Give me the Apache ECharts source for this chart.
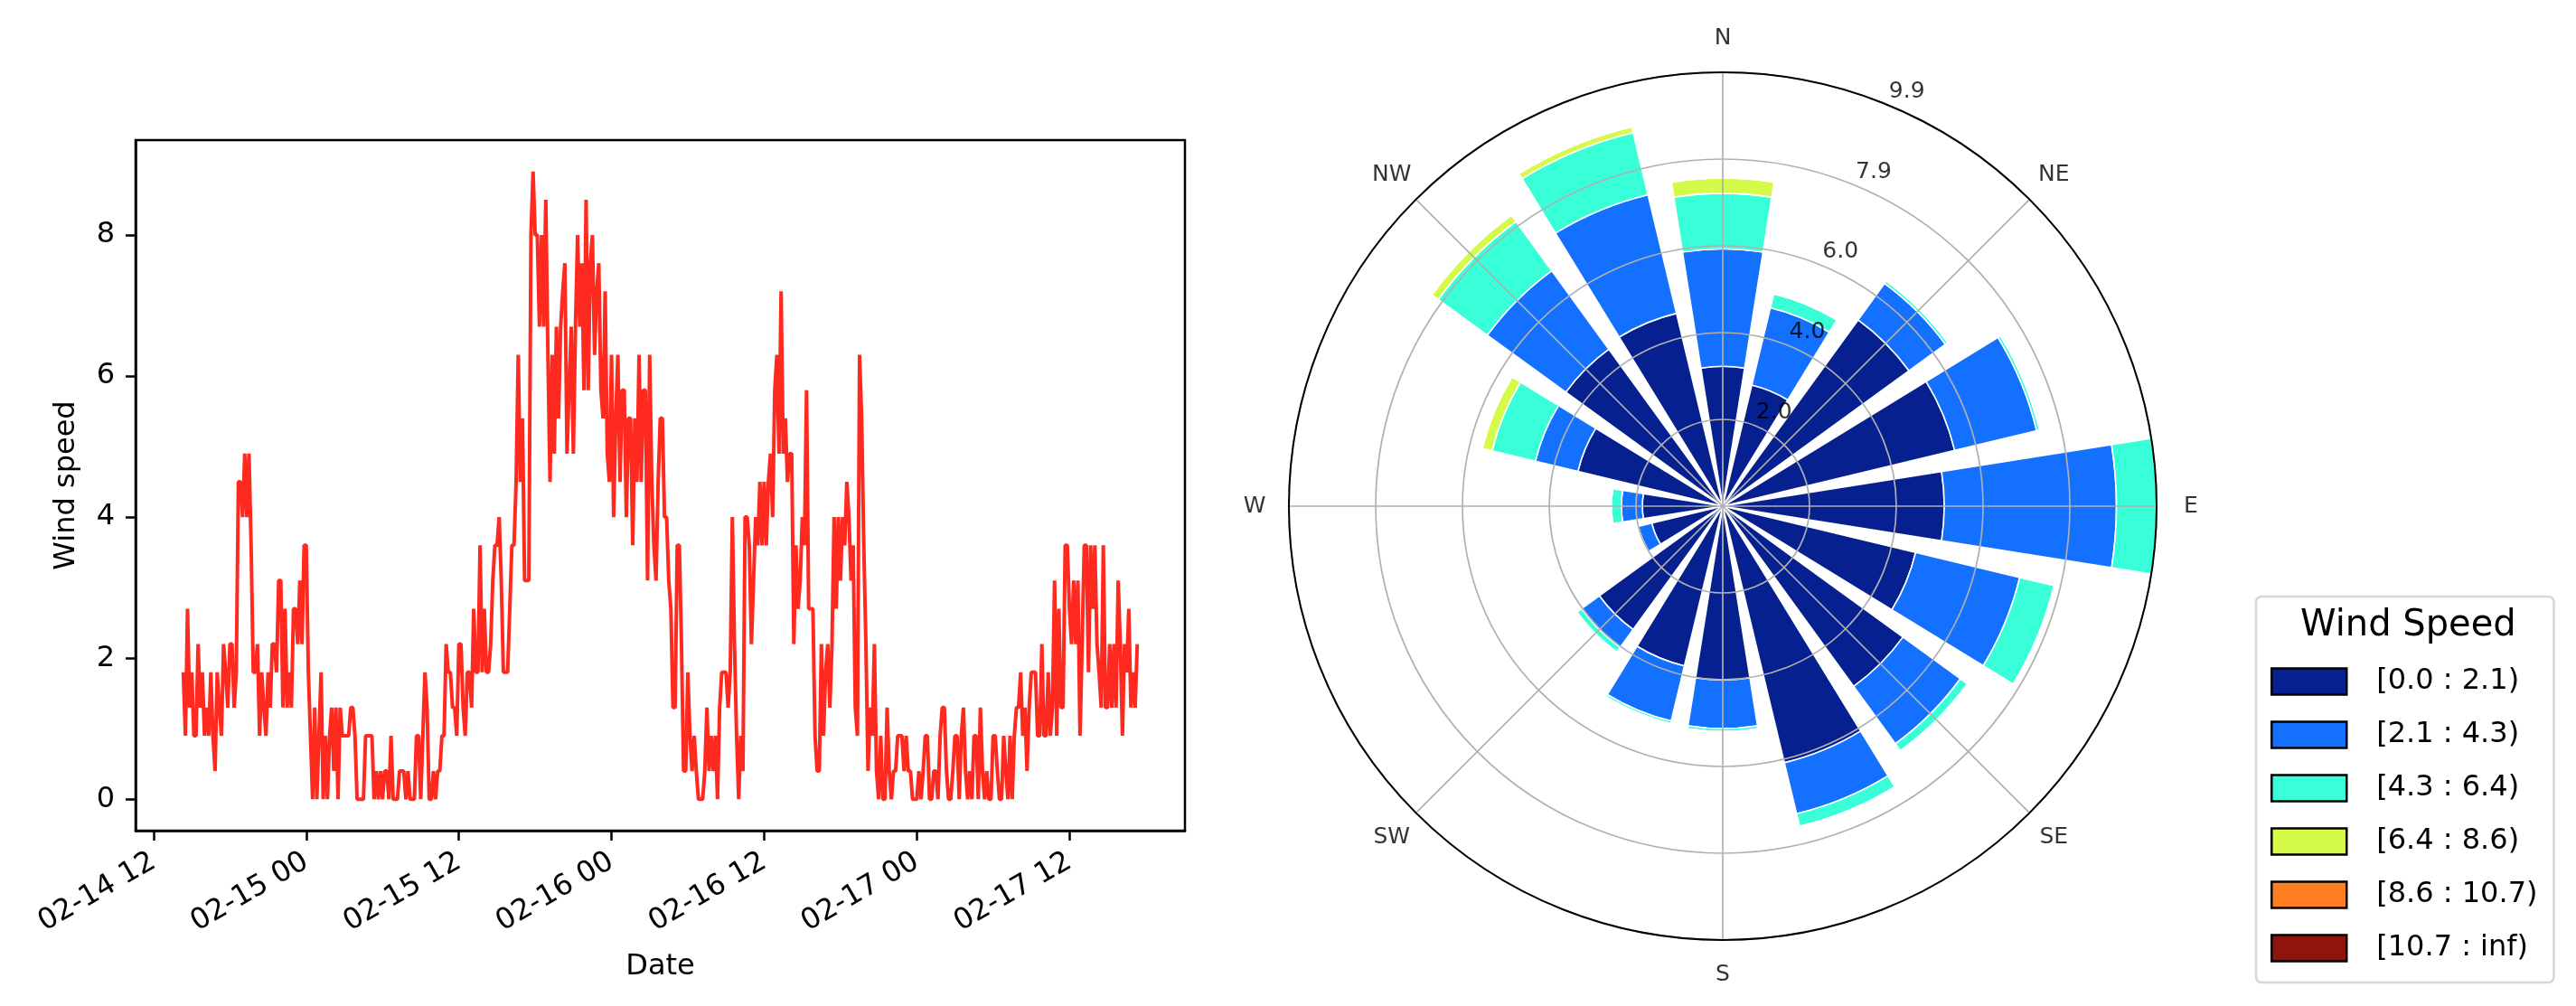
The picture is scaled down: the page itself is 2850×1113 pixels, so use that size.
<!DOCTYPE html>
<html>
<head>
<meta charset="utf-8">
<script src="https://cdn.jsdelivr.net/npm/echarts@6/dist/echarts.min.js"></script>
<style>
  html, body { margin: 0; padding: 0; background: #fff; }
  #chart { width: 2850px; height: 1113px; }
</style>
</head>
<body>
<div id="chart"></div>
<script>
// ---------- Time series (10-minute samples starting 02-14 14:20) ----------
const startHour = 14 + 20 / 60;      // hours after 02-14 00:00
const stepMinutes = 10;
const speeds = [
  1.8, 0.9, 2.7, 1.3, 1.8, 0.9, 0.9, 2.2, 1.3, 1.8,
  0.9, 1.3, 0.9, 1.8, 0.9, 0.4, 1.8, 1.3, 0.9, 2.2,
  1.8, 1.3, 2.2, 2.2, 1.3, 1.8, 4.5, 4.5, 4.0, 4.9,
  4.0, 4.9, 3.6, 1.8, 1.8, 2.2, 0.9, 1.8, 1.3, 0.9,
  1.8, 1.3, 2.2, 2.2, 1.8, 3.1, 3.1, 1.3, 2.7, 1.3,
  1.8, 1.3, 2.7, 2.7, 2.2, 3.1, 2.2, 3.6, 3.6, 1.8,
  0.9, 0, 1.3, 0, 0.9, 1.8, 0, 0.9, 0, 0.9,
  1.3, 0.4, 1.3, 0, 1.3, 0.9, 0.9, 0.9, 0.9, 1.3,
  1.3, 0.9, 0, 0, 0, 0, 0.9, 0.9, 0.9, 0.9,
  0, 0.4, 0, 0.4, 0, 0.4, 0.4, 0, 0.9, 0,
  0, 0, 0.4, 0.4, 0.4, 0, 0.4, 0, 0, 0,
  0.9, 0.9,
  0, 0.9, 1.8, 1.3, 0, 0, 0.4, 0, 0.4, 0.4,
  0.9, 0.9, 2.2, 1.8, 1.8, 1.3, 1.3, 0.9, 2.2, 2.2,
  1.3, 0.9, 1.8, 1.8, 1.3, 2.7, 1.8, 1.8, 3.6, 1.8,
  2.7, 1.8, 1.8, 2.2, 3.1, 3.6, 3.6, 4.0, 3.1, 1.8,
  1.8, 1.8, 2.7, 3.6, 3.6, 4.5, 6.3, 4.5, 5.4, 3.1,
  3.1, 3.1, 8.0, 8.9, 8.0, 8.0, 6.7, 8.0, 6.7, 8.5,
  6.3, 4.5, 6.3, 4.9, 6.7, 5.4, 6.7, 7.2, 7.6, 4.9,
  5.8, 6.7, 4.9, 6.7, 8.0, 6.7, 7.6, 5.8, 8.5, 5.8,
  7.6, 8.0, 6.3, 7.2, 7.6, 5.8, 5.4, 7.2, 4.9, 4.5,
  6.3, 4.0, 5.4, 6.3, 4.5, 5.8, 5.8, 4.0, 5.4, 5.4,
  3.6, 5.4, 4.5, 6.3, 4.5, 5.8, 5.8, 3.1, 6.3, 4.5,
  3.6, 3.1, 4.5, 5.4,
  5.4, 4.0, 4.0, 3.1, 2.7, 1.3, 1.3, 3.6, 3.6, 2.2,
  0.4, 0.4, 1.8, 0.9, 0.4, 0.9, 0.4, 0, 0, 0,
  0.4, 1.3, 0.4, 0.9, 0.4, 0.9, 0, 1.3, 1.8, 1.8,
  1.8, 1.3, 1.8, 4.0, 2.2, 0.9, 0, 0.9, 0.4, 4.0,
  4.0, 3.6, 2.2, 3.1, 4.0, 3.6, 4.5, 3.6, 4.5, 3.6,
  4.5, 4.9, 4.0, 5.8, 6.3, 4.9, 7.2, 4.9, 5.4, 4.5,
  4.9, 4.9, 2.2, 3.6, 2.7, 3.1, 4.0, 3.6, 5.8, 2.7,
  2.7, 2.7, 0.9, 0.4, 0.4, 2.2, 0.9, 1.8, 2.2, 1.3,
  2.2, 4.0, 2.7, 4.0, 3.1, 4.0, 3.6, 4.5, 4.0, 3.1,
  3.6, 1.3, 0.9, 6.3, 5.4, 3.6, 2.2, 0.4, 1.3, 0.9,
  2.2, 0.4, 0, 0.9, 0, 0, 1.3, 0.4, 0, 0.4,
  0.4, 0.9, 0.9,
  0.9, 0.4, 0.9, 0.4, 0.4, 0, 0, 0, 0.4, 0,
  0.4, 0.9, 0.9, 0, 0, 0.4, 0.4, 0, 0.9, 1.3,
  1.3, 0.4, 0, 0, 0.4, 0.9, 0.9, 0, 0.9, 1.3,
  0.4, 0, 0.4, 0, 0.9, 0.9, 0, 1.3, 0.4, 0,
  0.4, 0, 0, 0.9, 0.9, 0.4, 0, 0, 0.9, 0.4,
  0, 0.9, 0, 0.9, 1.3, 1.3, 1.8, 0.9, 1.3, 0.4,
  1.3, 1.8, 1.8, 1.8, 0.9, 0.9, 2.2, 0.9, 0.9, 1.8,
  0.9, 1.3, 3.1, 0.9, 2.7, 1.3, 1.3, 3.6, 3.6, 2.7,
  2.2, 3.1, 2.2, 3.1, 0.9, 2.2, 3.6, 3.6, 1.8, 3.6,
  2.7, 3.6, 2.2, 1.8, 1.3, 3.6, 1.3, 1.3, 2.2, 1.3,
  2.2, 1.3, 3.1, 2.2, 0.9, 2.2, 1.8, 2.7, 1.3, 1.8,
  1.3, 2.2
];
const tickHours = [12, 24, 36, 48, 60, 72, 84];
const tickLabels = ['02-14 12', '02-15 00', '02-15 12', '02-16 00', '02-16 12', '02-17 00', '02-17 12'];
const yTicks = [0, 2, 4, 6, 8];

// ---------- Wind rose (frequency %, per direction, per speed bin) ----------
const directions = ['N','NNE','NE','ENE','E','ESE','SE','SSE','S','SSW','SW','WSW','W','WNW','NW','NNW'];
const compassLabels = ['N','NE','E','SE','S','SW','W','NW'];
const compassAngles = [0, 45, 90, 135, 180, 225, 270, 315];
const binLabels = ['[0.0 : 2.1)', '[2.1 : 4.3)', '[4.3 : 6.4)', '[6.4 : 8.6)', '[8.6 : 10.7)', '[10.7 : inf)'];
const bin0 = [3.20, 2.85, 5.27, 5.46, 5.07, 4.54, 5.10, 6.04, 3.98, 3.76, 3.49, 1.67, 1.84, 3.41, 4.44, 4.54];
const bin1 = [2.69, 1.82, 1.03, 1.93, 3.94, 2.45, 1.62, 1.20, 1.11, 1.30, 0.51, 0.32, 0.48, 1.00, 2.22, 2.79];
const bin2 = [1.27, 0.33, 0.07, 0.07, 0.92, 0.81, 0.20, 0.30, 0.07, 0.06, 0.13, 0.00, 0.23, 1.02, 1.39, 1.46];
const bin3 = [0.35, 0.00, 0.00, 0.00, 0.00, 0.00, 0.00, 0.00, 0.00, 0.00, 0.00, 0.00, 0.00, 0.23, 0.18, 0.14];
const bin4 = [0, 0, 0, 0, 0, 0, 0, 0, 0, 0, 0, 0, 0, 0, 0, 0];
const bin5 = [0, 0, 0, 0, 0, 0, 0, 0, 0, 0, 0, 0, 0, 0, 0, 0];
const binColors = ['#07208f', '#1470ff', '#38ffd8', '#d6fa4a', '#ff7e22', '#8e140c'];
const rMax = 9.93;
const ringLabels = ['2.0', '4.0', '6.0', '7.9', '9.9'];
const ringLabelAngle = 22.5;

// ---------- build ----------
const FONT = 'DejaVu Sans';
const CENTER = [1906, 560];
const lineData = speeds.map((v, i) => [startHour + i * stepMinutes / 60, v]);
const xs = lineData.map(d => d[0]);
const xMinD = Math.min(...xs), xMaxD = Math.max(...xs);
const yMinD = Math.min(...speeds), yMaxD = Math.max(...speeds);
const xPad = 0.05 * (xMaxD - xMinD), yPad = 0.05 * (yMaxD - yMinD);

const bins = [bin0, bin1, bin2, bin3, bin4, bin5];
const roseSeries = bins.map((b, k) => ({
  name: binLabels[k],
  type: 'bar',
  coordinateSystem: 'polar',
  polarIndex: 0,
  stack: 'rose',
  barCategoryGap: '20%',
  data: b,
  itemStyle: { color: binColors[k], borderColor: '#ffffff', borderWidth: 1.6 },
  z: 2
}));

const hiddenAxis = { axisLine: { show: false }, axisTick: { show: false }, axisLabel: { show: false }, splitLine: { show: false } };

const chart = echarts.init(document.getElementById('chart'), null, { renderer: 'canvas' });
chart.setOption({
  animation: false,
  backgroundColor: '#ffffff',
  textStyle: { fontFamily: FONT, color: '#000' },
  title: {
    text: 'Wind Speed',
    left: 2540, top: 668,
    textStyle: { fontFamily: FONT, fontSize: 40, fontWeight: 'normal', color: '#000' },
    z: 10
  },
  legend: {
    orient: 'vertical',
    left: 2496, top: 660,
    padding: [78, 18, 22, 16],
    data: binLabels,
    icon: 'rect',
    itemWidth: 83, itemHeight: 29, itemGap: 27,
    itemStyle: { borderColor: '#000', borderWidth: 2.5 },
    textStyle: { fontFamily: FONT, fontSize: 32, color: '#000', padding: [0, 0, 0, 28] },
    backgroundColor: '#ffffff',
    borderColor: '#d6d6d6', borderWidth: 2.5, borderRadius: 6,
    selectedMode: false
  },
  grid: {
    left: 150, top: 155, width: 1161, height: 764,
    show: true, borderColor: '#000', borderWidth: 2.5, backgroundColor: 'transparent'
  },
  xAxis: {
    type: 'value',
    min: xMinD - xPad, max: xMaxD + xPad,
    axisLine: { show: true, onZero: false, lineStyle: { color: '#000', width: 2.5 } },
    axisTick: { show: true, customValues: tickHours, length: 11, lineStyle: { color: '#000', width: 2.5 } },
    axisLabel: {
      show: true, customValues: tickHours, rotate: 30, margin: 32,
      fontSize: 32, color: '#000', fontFamily: FONT,
      formatter: v => tickLabels[tickHours.indexOf(v)] || ''
    },
    splitLine: { show: false },
    name: 'Date', nameLocation: 'middle', nameGap: 135,
    nameTextStyle: { fontSize: 32, color: '#000', fontFamily: FONT }
  },
  yAxis: {
    type: 'value',
    min: yMinD - yPad, max: yMaxD + yPad,
    axisLine: { show: true, onZero: false, lineStyle: { color: '#000', width: 2.5 } },
    axisTick: { show: true, customValues: yTicks, length: 11, lineStyle: { color: '#000', width: 2.5 } },
    axisLabel: { show: true, customValues: yTicks, margin: 23, fontSize: 32, color: '#000', fontFamily: FONT },
    splitLine: { show: false },
    name: 'Wind speed', nameLocation: 'middle', nameGap: 60,
    nameTextStyle: { fontSize: 32, color: '#000', fontFamily: FONT }
  },
  polar: [
    { center: CENTER, radius: 480 },
    { center: CENTER, radius: 480 },
    { center: CENTER, radius: 518 }   // ring on which the compass labels sit
  ],
  angleAxis: [
    {
      polarIndex: 0, type: 'category', data: directions,
      startAngle: 90 + 360 / directions.length / 2, clockwise: true, boundaryGap: true,
      axisLine: { show: true, lineStyle: { color: '#000', width: 2 } },
      axisTick: { show: false }, axisLabel: { show: false }, splitLine: { show: false },
      z: 12
    },
    {
      polarIndex: 1, type: 'value', min: 0, max: 360, interval: 45,
      startAngle: 90, clockwise: true,
      axisLine: { show: false }, axisTick: { show: false }, axisLabel: { show: false },
      splitLine: { show: true, lineStyle: { color: '#b0b0b0', width: 1.7 } },
      z: 10
    },
    Object.assign({ polarIndex: 2, type: 'value', min: 0, max: 360, startAngle: 90, clockwise: true }, hiddenAxis)
  ],
  radiusAxis: [
    Object.assign({ polarIndex: 0, type: 'value', min: 0, max: rMax }, hiddenAxis),
    {
      polarIndex: 1, type: 'value', min: 0, max: rMax, interval: rMax / 5,
      axisLine: { show: false }, axisTick: { show: false }, axisLabel: { show: false },
      splitLine: { show: true, lineStyle: { color: '#b0b0b0', width: 1.7 } },
      z: 10
    },
    Object.assign({ polarIndex: 2, type: 'value', min: 0, max: 1 }, hiddenAxis)
  ],
  series: [
    {
      type: 'line', name: 'speed', data: lineData,
      showSymbol: false, symbol: 'none',
      lineStyle: { color: '#ff2a1f', width: 4 },
      itemStyle: { color: '#ff2a1f' }
    },
    ...roseSeries,
    {
      type: 'scatter', coordinateSystem: 'polar', polarIndex: 1,
      data: ringLabels.map((t, k) => [rMax * (k + 1) / 5, ringLabelAngle]),
      symbolSize: 1, itemStyle: { color: 'rgba(0,0,0,0)' },
      label: {
        show: true, position: 'inside', offset: [20, -15],
        fontSize: 25, color: '#000', fontFamily: FONT,
        formatter: p => ringLabels[p.dataIndex]
      },
      silent: true, z: 20
    },
    {
      type: 'scatter', coordinateSystem: 'polar', polarIndex: 2,
      data: compassAngles.map(a => [1, a]),
      symbolSize: 1, itemStyle: { color: 'rgba(0,0,0,0)' },
      label: {
        show: true, position: 'inside',
        fontSize: 25, color: '#000', fontFamily: FONT,
        formatter: p => compassLabels[p.dataIndex]
      },
      silent: true, z: 20
    }
  ]
});
</script>
</body>
</html>
